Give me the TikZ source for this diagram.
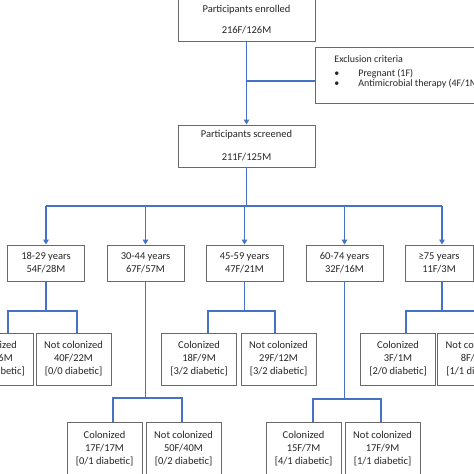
\documentclass[tikz,border=0pt]{standalone}
\usepackage{fontspec}
\setmainfont{Carlito}
\usetikzlibrary{arrows.meta,calc}
\definecolor{boxgray}{HTML}{6A6A6A}
\definecolor{txt}{HTML}{262626}
\definecolor{lineblue}{HTML}{4472C4}
\begin{document}
\begin{tikzpicture}[x=1pt,y=-1pt,
  box/.style={draw=boxgray, line width=0.9pt, fill=white, align=center, text=txt,
    font=\fontsize{10.5}{13}\selectfont, inner sep=2pt},
  agebox/.style={box, minimum width=77pt, minimum height=36pt},
  leaf/.style={box, minimum width=75pt, minimum height=52pt},
  link/.style={draw=lineblue, line width=1.4pt},
  arr/.style={link, -{Triangle[width=5.5pt,length=5pt]}}]
\useasboundingbox (0,0) rectangle (474,474);
\fill[white] (0,0) rectangle (474,474);
\clip (0,0) rectangle (474,474);

% top boxes
\node[box, minimum width=137pt, minimum height=43pt] (enr) at (246.5,19.5) {Participants enrolled\\[8pt]216F/126M};
\node[box, minimum width=137pt, minimum height=42pt] (scr) at (246.5,146) {Participants screened\\[10pt]211F/125M};
\node[box, anchor=north west, minimum width=185pt, minimum height=56pt, align=left,
  font=\fontsize{10}{12}\selectfont, inner xsep=6pt] (excl) at (315,47)
  {Exclusion criteria\\[2pt]\textbullet\hspace{19pt}Pregnant (1F)\\[-2pt]\textbullet\hspace{19pt}Antimicrobial therapy (4F/1M)\\[-3.5pt]\mbox{}};

% age boxes
\node[agebox] (a1) at (46,263) {18-29 years\\54F/28M};
\node[agebox] (a2) at (145.5,263) {30-44 years\\67F/57M};
\node[agebox] (a3) at (244.5,263) {45-59 years\\47F/21M};
\node[agebox] (a4) at (344.5,263) {60-74 years\\32F/16M};
\node[agebox, minimum width=68pt] (a5) at (439,263) {≥75 years\\11F/3M};

% middle leaves
\node[leaf] (c1) at (-4,359) {Colonized\\14F/6M\\{[0/0 diabetic]}};
\node[leaf] (n1) at (73.5,359) {Not colonized\\40F/22M\\{[0/0 diabetic]}};
\node[leaf] (c3) at (199,359) {Colonized\\18F/9M\\{[3/2 diabetic]}};
\node[leaf] (n3) at (278.5,359) {Not colonized\\29F/12M\\{[3/2 diabetic]}};
\node[leaf] (c5) at (398,359) {Colonized\\3F/1M\\{[2/0 diabetic]}};
\node[leaf] (n5) at (475,359) {Not colonized\\8F/2M\\{[1/1 diabetic]}};

% bottom leaves
\node[leaf, minimum height=54pt] (c2) at (104.5,449) {Colonized\\17F/17M\\{[0/1 diabetic]}};
\node[leaf, minimum height=54pt] (n2) at (183.5,449) {Not colonized\\50F/40M\\{[0/2 diabetic]}};
\node[leaf, minimum height=54pt] (c4) at (303.5,449) {Colonized\\15F/7M\\{[4/1 diabetic]}};
\node[leaf, minimum height=54pt] (n4) at (382.5,449) {Not colonized\\17F/9M\\{[1/1 diabetic]}};

% connectors top
\draw[arr] (enr.south) -- (scr.north);
\coordinate (ej) at (246.5,81);
\draw[link] (ej) -- (excl.west |- ej);
\coordinate (bus) at (246.5,206);
\draw[link] (scr.south) -- (bus);
\draw[link] (a1.north |- bus) -- ([xshift=3pt]a5.north |- bus);
\foreach \n in {a1,a2,a3,a4}{\draw[arr] (\n.north |- bus) -- (\n.north);}
\draw[arr] ([xshift=3pt]a5.north |- bus) -- ([xshift=3pt]a5.north);

% connectors to leaves
\coordinate (j1) at (a1.south |- 0,311);
\draw[link] (a1.south) -- (j1);
\draw[link] ([xshift=12pt]c1.north) |- (j1) -| ([xshift=3.5pt]n1.north);
\coordinate (j3) at (a3.south |- 0,311);
\draw[link] (a3.south) -- (j3);
\draw[link] ([xshift=9pt]c3.north) |- (j3) -| ([xshift=-3.5pt]n3.north);
\coordinate (j5) at ([xshift=3pt]a5.south |- 0,311);
\draw[link] ([xshift=3pt]a5.south) -- (j5);
\draw[link] ([xshift=8pt]c5.north) |- (j5) -| ([xshift=3pt]n5.north);
\coordinate (j2) at (a2.south |- 0,398);
\draw[link] (a2.south) -- (j2);
\draw[link] ([xshift=8.5pt]c2.north) |- (j2) -| ([xshift=-1.5pt]n2.north);
\coordinate (j4) at (a4.south |- 0,399);
\draw[link] (a4.south) -- (j4);
\draw[link] ([xshift=9.5pt]c4.north) |- (j4) -| ([xshift=-1.5pt]n4.north);
\end{tikzpicture}
\end{document}
